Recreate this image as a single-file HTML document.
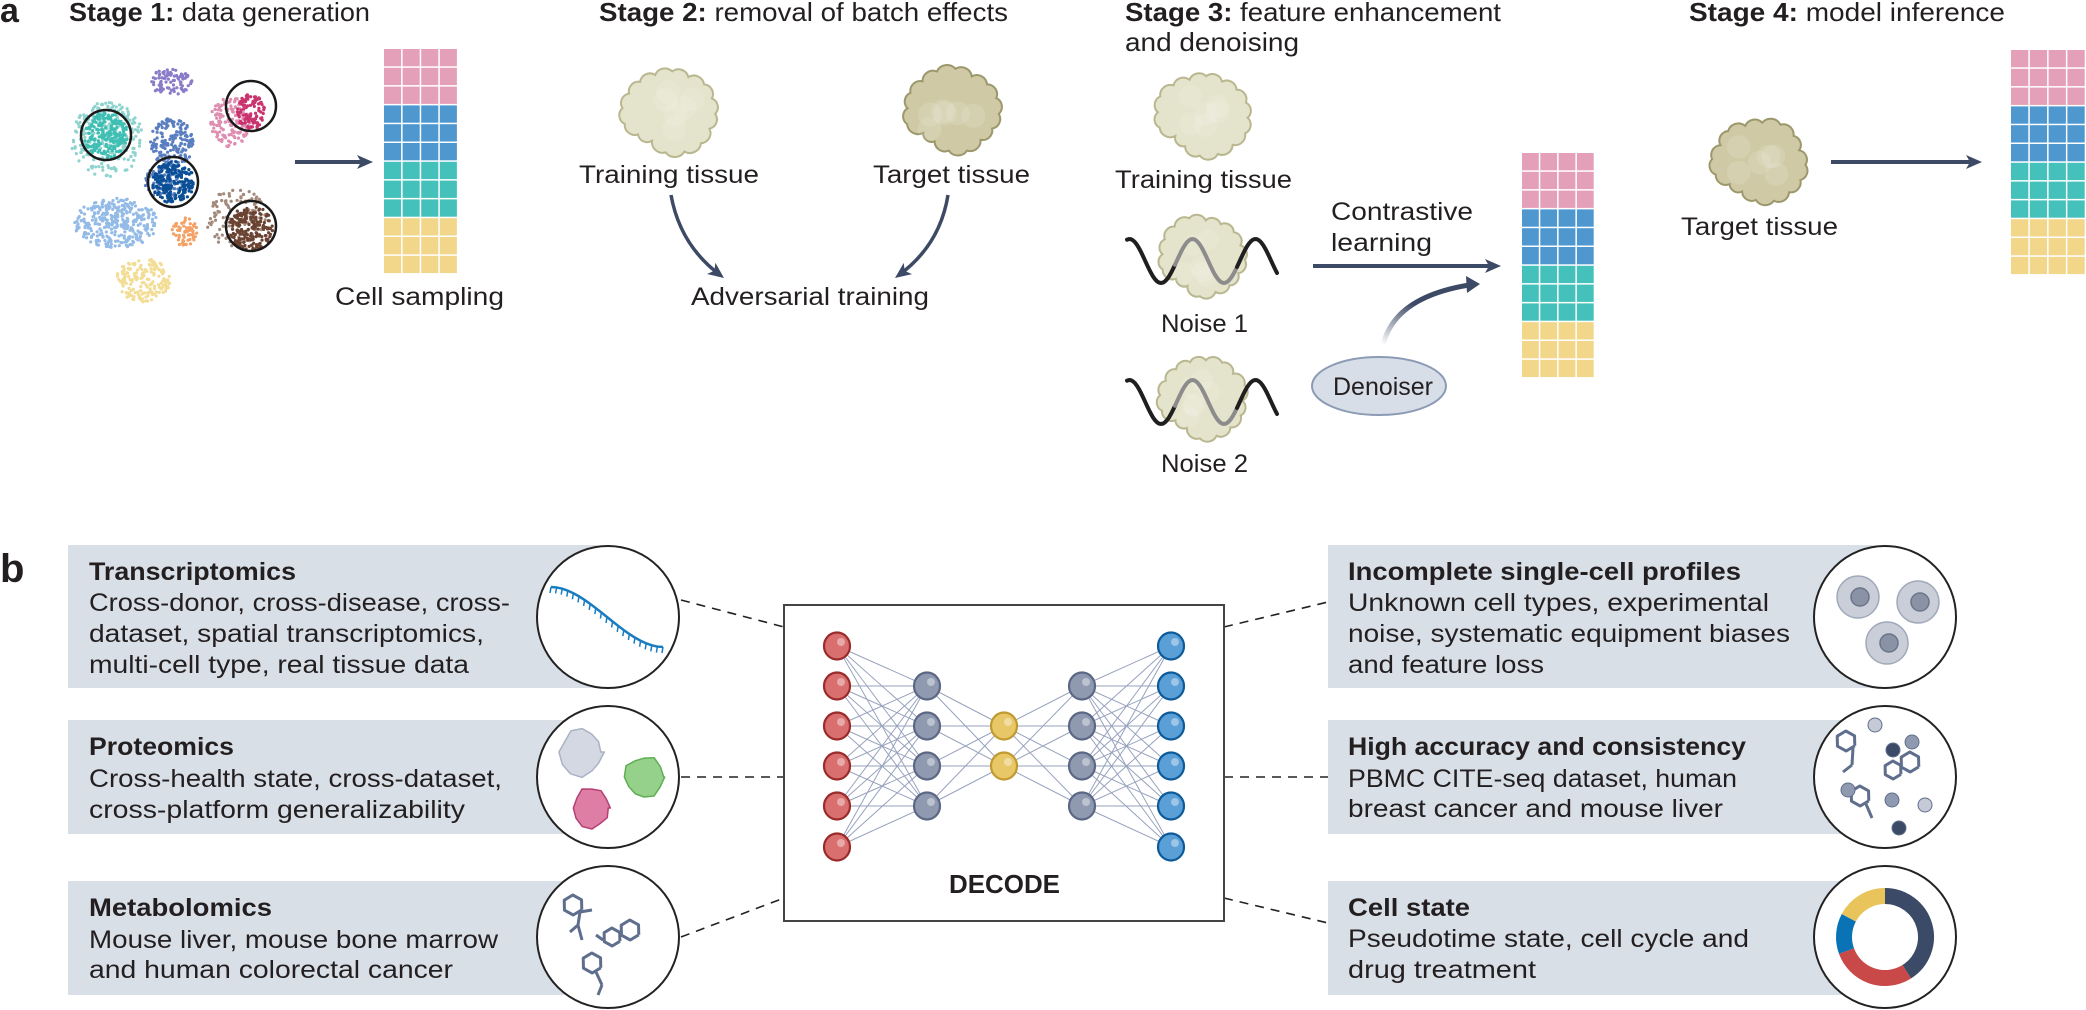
<!DOCTYPE html>
<html><head><meta charset="utf-8"><style>
html,body{margin:0;padding:0;background:#fff;}
svg{display:block;}
text{font-family:"Liberation Sans",sans-serif;fill:#231f20;}
.h{font-size:26px;}
.b{font-weight:bold;}
.t{font-size:25px;}
</style></head><body>
<svg id="s" xmlns="http://www.w3.org/2000/svg" width="2086" height="1010" viewBox="0 0 2086 1010">
<defs>
<marker id="ah2" markerWidth="16" markerHeight="16" refX="11" refY="8" orient="auto" markerUnits="userSpaceOnUse" viewBox="0 0 16 16">
<path d="M0,1 L16,8 L0,15 L4,8 Z" fill="#3d4a66"/></marker>
<linearGradient id="dg" gradientUnits="userSpaceOnUse" x1="1383" y1="345" x2="1405" y2="300">
<stop offset="0" stop-color="#3d4a66" stop-opacity="0"/><stop offset="1" stop-color="#3d4a66"/></linearGradient>
</defs>
<g id="dots"></g>
<g id="g"></g>

<text x="0" y="22" class="b" font-size="34">a</text>
<text x="69" y="21" class="h" textLength="301" lengthAdjust="spacingAndGlyphs"><tspan class="b">Stage 1:</tspan> data generation</text>
<text x="599" y="21" class="h" textLength="409" lengthAdjust="spacingAndGlyphs"><tspan class="b">Stage 2:</tspan> removal of batch effects</text>
<text x="1125" y="21" class="h" textLength="376" lengthAdjust="spacingAndGlyphs"><tspan class="b">Stage 3:</tspan> feature enhancement</text>
<text x="1125" y="51" class="h" textLength="174" lengthAdjust="spacingAndGlyphs">and denoising</text>
<text x="1689" y="21" class="h" textLength="316" lengthAdjust="spacingAndGlyphs"><tspan class="b">Stage 4:</tspan> model inference</text>

<text x="335" y="305" class="t" textLength="169" lengthAdjust="spacingAndGlyphs">Cell sampling</text>
<text x="579" y="183" class="t" textLength="180" lengthAdjust="spacingAndGlyphs">Training tissue</text>
<text x="873" y="183" class="t" textLength="157" lengthAdjust="spacingAndGlyphs">Target tissue</text>
<text x="691" y="305" class="t" textLength="238" lengthAdjust="spacingAndGlyphs">Adversarial training</text>
<text x="1115" y="188" class="t" textLength="177" lengthAdjust="spacingAndGlyphs">Training tissue</text>
<text x="1161" y="332" class="t" textLength="87" lengthAdjust="spacingAndGlyphs">Noise 1</text>
<text x="1161" y="472" class="t" textLength="87" lengthAdjust="spacingAndGlyphs">Noise 2</text>
<text x="1331" y="220" class="t" textLength="142" lengthAdjust="spacingAndGlyphs">Contrastive</text>
<text x="1331" y="251" class="t" textLength="101" lengthAdjust="spacingAndGlyphs">learning</text>
<text x="1681" y="235" class="t" textLength="157" lengthAdjust="spacingAndGlyphs">Target tissue</text>

<line x1="295" y1="162" x2="368" y2="162" stroke="#3d4a66" stroke-width="4" marker-end="url(#ah2)"/>
<path d="M671,195 Q680,245 720,275" fill="none" stroke="#3d4a66" stroke-width="3.5" marker-end="url(#ah2)"/>
<path d="M948,195 Q940,245 899,275" fill="none" stroke="#3d4a66" stroke-width="3.5" marker-end="url(#ah2)"/>
<line x1="1313" y1="266" x2="1496" y2="266" stroke="#3d4a66" stroke-width="4" marker-end="url(#ah2)"/>
<path d="M1383,345 Q1395,295 1476,284" fill="none" stroke="url(#dg)" stroke-width="5"/>
<path d="M1466,276 L1480,284 L1467,293 Z" fill="#3d4a66"/>
<line x1="1831" y1="162" x2="1977" y2="162" stroke="#3d4a66" stroke-width="4" marker-end="url(#ah2)"/>

<ellipse cx="1379" cy="386" rx="67" ry="29" fill="#d7dee8" stroke="#8c9bb5" stroke-width="2"/>
<text x="1333" y="395" class="t" textLength="100" lengthAdjust="spacingAndGlyphs">Denoiser</text>

<text x="0" y="582" class="b" font-size="40">b</text>
<g fill="#d9dfe7">
<rect x="68" y="545" width="540" height="143"/>
<rect x="68" y="720" width="540" height="114"/>
<rect x="68" y="881" width="540" height="114"/>
<rect x="1328" y="545" width="557" height="143"/>
<rect x="1328" y="720" width="557" height="114"/>
<rect x="1328" y="881" width="557" height="114"/>
</g>
<g stroke="#222" stroke-width="1.6" stroke-dasharray="9,7" fill="none">
<line x1="681" y1="600" x2="784" y2="627"/>
<line x1="681" y1="777" x2="784" y2="777"/>
<line x1="681" y1="937" x2="784" y2="898"/>
<line x1="1224" y1="627" x2="1328" y2="602"/>
<line x1="1224" y1="777" x2="1328" y2="777"/>
<line x1="1224" y1="898" x2="1328" y2="923"/>
</g>
<g fill="#fff" stroke="#222" stroke-width="2">
<circle cx="608" cy="617" r="71"/><circle cx="608" cy="777" r="71"/><circle cx="608" cy="937" r="71"/>
<circle cx="1885" cy="617" r="71"/><circle cx="1885" cy="777" r="71"/><circle cx="1885" cy="937" r="71"/>
</g>

<text x="89" y="580" class="t b" textLength="207" lengthAdjust="spacingAndGlyphs">Transcriptomics</text>
<text x="89" y="611" class="t" textLength="421" lengthAdjust="spacingAndGlyphs">Cross-donor, cross-disease, cross-</text>
<text x="89" y="642" class="t" textLength="395" lengthAdjust="spacingAndGlyphs">dataset, spatial transcriptomics,</text>
<text x="89" y="673" class="t" textLength="380" lengthAdjust="spacingAndGlyphs">multi-cell type, real tissue data</text>
<text x="89" y="755" class="t b" textLength="145" lengthAdjust="spacingAndGlyphs">Proteomics</text>
<text x="89" y="787" class="t" textLength="413" lengthAdjust="spacingAndGlyphs">Cross-health state, cross-dataset,</text>
<text x="89" y="818" class="t" textLength="376" lengthAdjust="spacingAndGlyphs">cross-platform generalizability</text>
<text x="89" y="916" class="t b" textLength="183" lengthAdjust="spacingAndGlyphs">Metabolomics</text>
<text x="89" y="948" class="t" textLength="409" lengthAdjust="spacingAndGlyphs">Mouse liver, mouse bone marrow</text>
<text x="89" y="978" class="t" textLength="364" lengthAdjust="spacingAndGlyphs">and human colorectal cancer</text>

<text x="1348" y="580" class="t b" textLength="393" lengthAdjust="spacingAndGlyphs">Incomplete single-cell profiles</text>
<text x="1348" y="611" class="t" textLength="421" lengthAdjust="spacingAndGlyphs">Unknown cell types, experimental</text>
<text x="1348" y="642" class="t" textLength="442" lengthAdjust="spacingAndGlyphs">noise, systematic equipment biases</text>
<text x="1348" y="673" class="t" textLength="196" lengthAdjust="spacingAndGlyphs">and feature loss</text>
<text x="1348" y="755" class="t b" textLength="398" lengthAdjust="spacingAndGlyphs">High accuracy and consistency</text>
<text x="1348" y="787" class="t" textLength="389" lengthAdjust="spacingAndGlyphs">PBMC CITE-seq dataset, human</text>
<text x="1348" y="817" class="t" textLength="375" lengthAdjust="spacingAndGlyphs">breast cancer and mouse liver</text>
<text x="1348" y="916" class="t b" textLength="122" lengthAdjust="spacingAndGlyphs">Cell state</text>
<text x="1348" y="947" class="t" textLength="401" lengthAdjust="spacingAndGlyphs">Pseudotime state, cell cycle and</text>
<text x="1348" y="978" class="t" textLength="188" lengthAdjust="spacingAndGlyphs">drug treatment</text>

<rect x="784" y="605" width="440" height="316" fill="#fff" stroke="#444" stroke-width="2"/>
<g id="net"></g>
<text x="949" y="893" class="b" font-size="26" textLength="111" lengthAdjust="spacingAndGlyphs">DECODE</text>

<g id="donut"></g>
<g id="icons"></g>
</svg>
<script>
var NS="http://www.w3.org/2000/svg";
function el(p,t,a){var e=document.createElementNS(NS,t);for(var k in a)e.setAttribute(k,a[k]);p.appendChild(e);return e;}
var seed=7;function rnd(){seed=(seed*16807)%2147483647;return seed/2147483647;}
var G=document.getElementById('g'),D=document.getElementById('dots');
var cl=[[170,82,22,13,'#8a7cc8',90],[107,140,36,38,'#8fd3cf',260],[106,135,22,23,'#3fbfb3',220],
[230,122,20,25,'#de8fb1',150],[251,112,14,18,'#c9346f',110],[172,143,22,25,'#5a7fc0',170],[165,182,20,18,'#5a7fc0',80],
[173,182,21,21,'#0b4f96',200],[116,223,42,25,'#93bbe6',330],[185,232,13,14,'#f5a064',60],
[236,218,30,30,'#a48a7c',120],[251,228,22,22,'#6b4332',200],[143,280,27,22,'#f3dc94',170]];
cl.forEach(function(c){for(var i=0;i<c[5];i++){var a=rnd()*6.283,r=Math.sqrt(rnd());el(D,'circle',{cx:c[0]+Math.cos(a)*r*c[2],cy:c[1]+Math.sin(a)*r*c[3],r:1.6,fill:c[4]});}});
[[106,135],[251,106],[173,182],[251,226]].forEach(function(p){el(D,'ellipse',{cx:p[0],cy:p[1],rx:25,ry:25,fill:'none',stroke:'#1a1a1a','stroke-width':2.5});});
var cols=['#e4a0b8','#4e97cf','#45c1bb','#f2d68a'];
function grid(x,y,cw,ch){for(var r=0;r<12;r++)for(var c=0;c<4;c++){el(G,'rect',{x:x+c*cw,y:y+r*ch,width:cw-1.5,height:ch-1.5,fill:cols[Math.floor(r/3)]});}}
grid(384,49,18.6,18.8);grid(1522,153,18.3,18.8);grid(2011,50,18.8,18.8);
function blob(cx,cy,rx,ry,fill,stroke){var n=16,pts=[];for(var i=0;i<n;i++){var a=i/n*6.283-1.5,f=0.9+0.12*rnd();if(i==9||i==10)f*=0.85;pts.push([cx+Math.cos(a)*rx*f,cy+Math.sin(a)*ry*f]);}
var d='M'+pts[0][0]+','+pts[0][1];for(var i=1;i<=n;i++){var p=pts[i%n],q=pts[i-1],dd=Math.hypot(p[0]-q[0],p[1]-q[1]);d+=' A'+(dd*0.6)+','+(dd*0.6)+' 0 0 1 '+p[0]+','+p[1];}
el(G,'path',{d:d+'Z',fill:fill,stroke:stroke,'stroke-width':2});
for(var k=0;k<6;k++)el(G,'circle',{cx:cx+(rnd()-.5)*rx,cy:cy+(rnd()-.5)*ry,r:rx*0.25,fill:'#fff','fill-opacity':0.12,stroke:'none'});}
var lt='#e4e3cb',ls='#b9b78f',dk='#cfcaa5',ds='#9c986c';
blob(669,111,48,42,lt,ls);blob(952,111,48,42,dk,ds);blob(1203,115,47,41,lt,ls);
blob(1203,257,43,40,lt,ls);blob(1203,398,43,40,lt,ls);blob(1759,162,47,41,dk,ds);
function wave(cy,x1,x2,col){var d='';for(var x=x1;x<=x2;x+=2){var y=cy+22*Math.cos(2*Math.PI*(x-1161)/63);d+=(d?'L':'M')+x+','+y;}el(G,'path',{d:d,fill:'none',stroke:col,'stroke-width':4,'stroke-linecap':'round'});}
[261,402].forEach(function(c){wave(c,1127,1175,'#1f1f1f');wave(c,1175,1237,'#8c8c8c');wave(c,1237,1277,'#1f1f1f');});
var N=document.getElementById('net');
var L=[[837,[646,686,726,766,806,847],'#d9706f','#9b2a2a'],[927,[686,726,766,806],'#8f9ab0','#5b6784'],[1004,[726,766],'#e8c766','#c09a30'],[1082,[686,726,766,806],'#8f9ab0','#5b6784'],[1171,[646,686,726,766,806,847],'#5a9fd6','#0c5a9a']];
for(var i=0;i<4;i++){L[i][1].forEach(function(a){L[i+1][1].forEach(function(b){el(N,'line',{x1:L[i][0],y1:a,x2:L[i+1][0],y2:b,stroke:'#97a2bd','stroke-width':1});});});}
L.forEach(function(l){l[1].forEach(function(y){el(N,'ellipse',{cx:l[0],cy:y,rx:13,ry:13.5,fill:l[2],stroke:l[3],'stroke-width':2.2});el(N,'circle',{cx:l[0]+4,cy:y-4,r:4,fill:'#fff','fill-opacity':0.4});});});
var DN=document.getElementById('donut');
function arc(a1,a2,col){var cx=1885,cy=937,r=41;function p(a){a=(a-90)*Math.PI/180;return (cx+r*Math.cos(a))+','+(cy+r*Math.sin(a));}
el(DN,'path',{d:'M'+p(a1)+' A'+r+','+r+' 0 '+((a2-a1)>180?1:0)+' 1 '+p(a2),fill:'none',stroke:col,'stroke-width':16});}
arc(0,148,'#3b4a66');arc(148,250,'#c94848');arc(250,298,'#0a73b5');arc(298,360,'#e8c45a');
var I=document.getElementById('icons');
var d='',pts=[];for(var t=0;t<=1.0001;t+=0.05){var x=551+112*t,y=587+60*(t*t*(3-2*t));pts.push([x,y]);d+=(d?'L':'M')+x+','+y;}
el(I,'path',{d:d,fill:'none',stroke:'#1a7cc0','stroke-width':2.5});pts.forEach(function(p){el(I,'line',{x1:p[0],y1:p[1],x2:p[0]-1,y2:p[1]+6,stroke:'#1a7cc0','stroke-width':1.5});});
function pblob(cx,cy,r,f,s){var n=12,dd='';for(var i=0;i<=n;i++){var a=i/n*6.283,rr=r*(0.85+0.2*rnd());dd+=(i?'L':'M')+(cx+Math.cos(a)*rr)+','+(cy+Math.sin(a)*rr*1.1);}el(I,'path',{d:dd+'Z',fill:f,stroke:s,'stroke-width':1.5,'stroke-linejoin':'round'});}
pblob(582,752,22,'#d3d8e3','#aab2c4');pblob(644,777,20,'#95d18a','#5fae54');pblob(592,808,19,'#de7ea5','#b53f75');
function hex(cx,cy,r){var dd='';for(var i=0;i<=6;i++){var a=i/6*6.283+0.5;dd+=(i?'L':'M')+(cx+Math.cos(a)*r)+','+(cy+Math.sin(a)*r);}el(I,'path',{d:dd,fill:'none',stroke:'#5f6e8c','stroke-width':3,'stroke-linejoin':'round'});}
function ln(a,b,c,d){el(I,'line',{x1:a,y1:b,x2:c,y2:d,stroke:'#5f6e8c','stroke-width':3});}
hex(573,905,10);ln(580,912,592,910);ln(580,912,578,925);ln(578,925,570,932);ln(578,925,582,940);
hex(612,937,9);hex(630,930,10);ln(603,940,596,935);
hex(592,963,10);ln(596,972,602,985);ln(602,985,598,995);
hex(1846,741,10);ln(1853,748,1852,765);ln(1852,765,1843,772);
hex(1893,770,9);hex(1910,762,10);hex(1860,796,10);ln(1866,804,1872,818);
[[1875,725,'#c5cad6'],[1893,750,'#3b4a66'],[1912,742,'#8f9ab0'],[1848,790,'#8f9ab0'],[1892,800,'#8f9ab0'],[1925,805,'#c5cad6'],[1899,828,'#3b4a66']].forEach(function(b){el(I,'circle',{cx:b[0],cy:b[1],r:7,fill:b[2],stroke:'#5f6e8c','stroke-width':1});});
[[1858,597],[1918,602],[1887,643]].forEach(function(c){el(I,'circle',{cx:c[0],cy:c[1],r:21,fill:'#c9ced8',stroke:'#a1a8b8','stroke-width':1.5});el(I,'circle',{cx:c[0]+2,cy:c[1],r:9,fill:'#8a93a6',stroke:'#6c7489','stroke-width':1.5});});
</script>
</body></html>
